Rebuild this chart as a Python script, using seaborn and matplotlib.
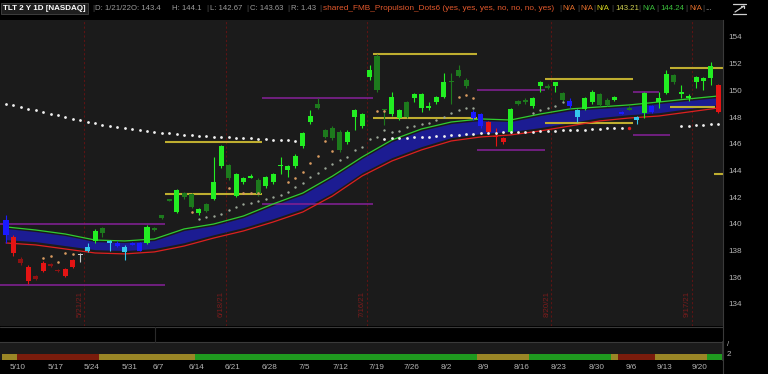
import numpy as np
import pandas as pd
import matplotlib
matplotlib.use("Agg")
import matplotlib.pyplot as plt
import seaborn as sns
from matplotlib.lines import Line2D

sns.set_theme(style="dark")
plt.rcParams['font.family'] = ['Liberation Sans', 'DejaVu Sans']

# ---------------- data ----------------
opens = [139.2, 139.0, 137.4, 136.8, 136.1, 137.1, 137.0, 136.55, 136.6, 137.3,
         137.7, 138.0, 138.7, 139.3, 138.6, 138.35, 137.9, 138.45, 138.0, 138.6,
         139.55, 140.45, 141.75, 140.9, 142.0, 142.2, 140.8, 141.5, 141.9, 144.3,
         144.4, 142.1, 143.15, 143.45, 143.3, 142.8, 143.1, 144.3, 144.0, 144.3,
         145.8, 147.6, 148.7, 147.0, 147.2, 146.9, 146.1, 148.0, 147.3, 151.0,
         152.6, 148.5, 148.2, 147.9, 149.1, 149.4, 148.7, 148.7, 149.1, 149.5,
         150.6, 151.5, 150.8, 148.4, 148.2, 147.6, 146.6, 146.4, 146.9, 149.2,
         149.3, 148.8, 150.3, 150.35, 150.3, 149.8, 149.2, 148.0, 148.6, 149.1,
         149.7, 149.3, 149.3, 148.4, 148.7, 147.8, 148.3, 148.8, 149.1, 149.8,
         151.15, 149.7, 149.45, 150.6, 150.7, 150.9, 150.4]
highs = [140.7, 139.2, 137.5, 136.9, 136.2, 137.2, 137.1, 136.6, 136.7, 137.4,
         137.8, 138.6, 139.6, 139.8, 138.8, 138.7, 138.4, 138.65, 138.65, 139.9,
         139.8, 140.7, 141.9, 142.6, 142.35, 142.3, 141.2, 141.6, 145.0, 145.9,
         144.5, 143.8, 143.5, 143.7, 143.4, 143.6, 143.8, 145.0, 144.4, 145.2,
         146.9, 148.5, 149.4, 147.1, 147.3, 147.0, 147.0, 148.6, 148.3, 151.9,
         152.7, 148.6, 149.9, 148.6, 149.2, 149.8, 149.8, 149.1, 149.6, 151.3,
         151.3, 151.9, 150.9, 148.5, 148.3, 147.7, 147.2, 146.5, 148.7, 149.3,
         149.4, 149.5, 150.7, 150.45, 150.65, 149.9, 149.4, 148.6, 149.5, 150.0,
         149.8, 149.4, 149.6, 148.45, 148.8, 148.1, 149.9, 148.9, 149.9, 151.5,
         151.2, 150.4, 149.7, 151.1, 151.0, 152.1, 150.5]
lows = [138.6, 137.6, 136.9, 135.5, 135.8, 136.4, 136.8, 136.4, 136.0, 136.7,
        137.15, 137.9, 138.6, 139.0, 138.0, 138.3, 137.3, 138.4, 137.95, 138.5,
        139.5, 140.4, 141.7, 140.8, 141.9, 141.2, 140.7, 140.9, 141.8, 144.2,
        143.3, 142.0, 143.0, 143.4, 142.1, 142.7, 143.0, 143.7, 143.5, 144.2,
        145.7, 147.5, 148.6, 146.4, 146.3, 145.4, 146.0, 147.0, 147.2, 150.8,
        149.9, 147.4, 148.1, 147.8, 147.9, 149.1, 148.4, 148.5, 149.0, 149.4,
        149.0, 151.0, 150.2, 147.8, 147.2, 146.8, 145.8, 146.0, 146.8, 148.9,
        149.0, 148.7, 149.9, 150.1, 149.9, 149.2, 148.7, 147.6, 148.5, 149.0,
        148.8, 148.8, 149.2, 148.2, 148.5, 147.5, 147.9, 148.3, 148.7, 149.7,
        150.5, 149.4, 149.2, 150.2, 150.0, 150.4, 148.3]
closes = [140.3, 137.8, 137.1, 135.7, 135.9, 136.5, 136.85, 136.5, 136.1, 136.8,
          137.75, 138.3, 139.5, 139.7, 138.7, 138.6, 138.3, 138.6, 138.6, 139.8,
          139.7, 140.65, 141.85, 142.5, 142.3, 141.3, 141.1, 141.0, 143.1, 145.8,
          143.4, 143.7, 143.4, 143.6, 142.2, 143.5, 143.7, 144.4, 144.3, 145.1,
          146.8, 148.1, 149.0, 146.5, 146.4, 145.5, 146.9, 148.5, 148.2, 151.5,
          150.0, 148.55, 149.5, 148.5, 148.0, 149.7, 149.7, 148.85, 149.5, 150.6,
          150.65, 151.1, 150.3, 147.9, 147.3, 146.9, 146.5, 146.1, 148.6, 149.0,
          149.15, 149.4, 150.6, 150.2, 150.6, 149.3, 148.8, 148.5, 149.4, 149.9,
          148.9, 148.9, 149.5, 148.25, 148.55, 148.0, 149.8, 148.4, 149.4, 151.2,
          150.6, 149.9, 149.55, 151.0, 150.9, 151.8, 148.4]
candle_paint = list("BRrRrRrrRR" "WCGgCBCBBG" "gggGggGgGG" "gGGGgGGGGG"
                    "GGggggGGGG" "g"
                    "gGGgGGGGGggg"
                    "BBRRRGggGGgGgBCGGggGBgCGBGGgGGGGGR")

# bands (every 4th bar)
band_idx = list(range(0, 97, 4))
upper_band = [139.77, 139.54, 139.24, 138.79, 138.72, 138.87, 139.62, 139.99, 140.59,
              141.49, 142.31, 143.58, 145.01, 146.28, 147.11, 147.63, 147.86, 147.78,
              148.23, 148.61, 148.76, 148.91, 149.13, 149.36, 149.58]
lower_band = [138.57, 138.42, 138.12, 137.82, 137.75, 137.90, 138.34, 138.94, 139.47,
              140.14, 140.89, 142.09, 143.59, 144.71, 145.54, 146.21, 146.51, 146.66,
              146.96, 147.33, 147.71, 147.93, 148.08, 148.38, 148.68]

# white dots (upper, descending), bars 0-39
white_a_idx = list(range(0, 40))
white_a = [148.98, 148.87, 148.76, 148.64, 148.53, 148.38, 148.23, 148.12, 148.01, 147.86,
           147.75, 147.63, 147.52, 147.41, 147.33, 147.26, 147.18, 147.11, 147.03, 146.96,
           146.88, 146.81, 146.77, 146.73, 146.66, 146.62, 146.58, 146.55, 146.51, 146.51,
           146.47, 146.43, 146.43, 146.40, 146.36, 146.32, 146.28, 146.28, 146.25, 146.21]
# white dots (lower, rising)
white_b_idx = list(range(51, 84)) + [91, 92, 93, 94, 95, 96]
white_b = [146.36, 146.43, 146.43, 146.43, 146.51, 146.51, 146.51, 146.58, 146.58, 146.66,
           146.66, 146.73, 146.73, 146.81, 146.81, 146.81, 146.88, 146.88, 146.88, 146.88,
           146.88, 146.96, 146.96, 146.96, 147.03, 147.03, 147.03, 147.03, 147.11, 147.11,
           147.18, 147.18, 147.18,
           147.33, 147.33, 147.41, 147.41, 147.48, 147.48]
red_dot_idx = [84]
red_dot = [147.18]
# gray trailing dots
gray_idx = list(range(26, 64)) + [71, 72, 73, 74, 75]
gray_dots = [140.37, 140.52, 140.59, 140.74, 141.04, 141.27, 141.49, 141.57, 141.72, 141.87,
             142.01, 142.16, 142.39, 142.76, 143.06, 143.51, 143.81, 144.19, 144.49, 144.79,
             145.01, 145.54, 145.76, 146.36, 146.51, 147.03, 146.88, 146.96, 147.26, 147.33,
             147.48, 147.56, 147.78, 148.01, 148.31, 148.53, 148.68, 148.68,
             148.31, 148.53, 148.68, 148.83, 149.13]
# orange dots
orange_idx = [5, 6, 7, 8, 9, 25, 30, 32, 33, 34, 38, 39, 40, 41, 42, 43, 44, 50, 51, 61, 62, 63]
orange_dots = [137.45, 137.6, 137.15, 137.8, 137.75, 140.89, 142.69, 142.31, 142.31, 142.31,
               143.14, 143.44, 143.89, 144.56, 145.09, 146.21, 145.46, 148.46, 148.46,
               149.5, 149.66, 149.43]

# horizontal range lines (start bar, end bar, level)
purple_levels = [(-0.9, 21.4, 140.0), (-0.9, 21.4, 135.42), (34.5, 49.5, 149.45), (34.5, 49.5, 141.49),
                 (63.5, 72.6, 150.05), (63.5, 72.6, 145.54), (84.5, 88.0, 149.9), (84.5, 89.5, 146.66)]
yellow_levels = [(21.4, 34.5, 146.1), (21.4, 34.5, 142.2), (49.5, 63.5, 152.75), (49.5, 63.5, 147.9),
                 (72.6, 84.5, 150.85), (72.6, 84.5, 147.58), (89.5, 96.7, 151.65), (89.5, 95.5, 148.76),
                 (95.4, 96.6, 143.74)]

expiry_pos = [10.5, 29.6, 48.6, 73.5, 92.4]
expiry_labels = ["5/21/21", "6/18/21", "7/16/21", "8/20/21", "9/17/21"]

week_labels = ["5/10", "5/17", "5/24", "5/31", "6/7", "6/14", "6/21", "6/28", "7/5", "7/12",
               "7/19", "7/26", "8/2", "8/9", "8/16", "8/23", "8/30", "9/6", "9/13", "9/20"]
week_pos = [1.62, 6.74, 11.59, 16.71, 20.49, 25.74, 30.59, 35.58, 40.16, 45.01,
            49.87, 54.58, 59.30, 64.29, 69.54, 74.53, 79.65, 84.23, 88.68, 93.53]

trend_state = list("oo" + "r" * 11 + "o" * 13 + "g" * 38 + "o" * 7 + "g" * 11 + "o" + "r" * 5 + "o" * 7 + "gg")

price_ticks = [134, 136, 138, 140, 142, 144, 146, 148, 150, 152, 154]

# ---------------- styles ----------------
paint = {'G': '#22ee22', 'g': '#1d7a1d', 'R': '#e41414', 'r': '#8e1212',
         'B': '#1a1aff', 'C': '#35c8ee', 'W': '#c8c8c8'}
state_col = {'g': '#1f9a1f', 'o': '#9a8626', 'r': '#7a1c0c'}

W, H = 768, 374
fig = plt.figure(figsize=(W / 100, H / 100), dpi=100, facecolor='black')


def px_rect(x0, y0, x1, y1):
    return [x0 / W, 1 - y1 / H, (x1 - x0) / W, (y1 - y0) / H]


ax = fig.add_axes(px_rect(0, 20, 723, 326))
ax.set_facecolor('#1b1b1b')
xlim = (-0.81, 96.63)
ax.set_xlim(*xlim)
ax.set_ylim(132.35, 155.27)
ax.grid(False)

# expiration verticals
for p, lab in zip(expiry_pos, expiry_labels):
    ax.axvline(p, color='#5c1414', lw=0.8, ls=(0, (2, 2)), zorder=1)
    ax.text(p - 0.55, 134.0, lab, rotation=90, color='#7a1c1c', fontsize=5.6,
            ha='center', va='center', zorder=1)

# band fill and lines
ax.fill_between(band_idx, np.array(upper_band) - 0.12, np.array(lower_band) + 0.25,
                color='#1c1c92', lw=0, zorder=2)
sns.lineplot(x=band_idx, y=upper_band, ax=ax, color='#30cc30', lw=0.9, zorder=3)
sns.lineplot(x=band_idx, y=lower_band, ax=ax, color='#dc2020', lw=0.9, zorder=3)

# range lines
for a, b, lv in purple_levels:
    ax.hlines(lv, a, b, color='#7e2090', lw=1.2, zorder=2)
for a, b, lv in yellow_levels:
    ax.hlines(lv, a, b, color='#bfae30', lw=1.5, zorder=2)

# candles
idx = np.arange(len(opens))
cols = [paint[c] for c in candle_paint]
ax.vlines(idx, lows, highs, colors=cols, lw=0.8, zorder=4)
bottoms = np.minimum(opens, closes)
heights = np.maximum(np.abs(np.array(closes) - np.array(opens)), 0.07)
ax.bar(idx, heights, bottom=bottoms, width=0.68, color=cols, lw=0, zorder=5)

# dots
sns.scatterplot(x=white_a_idx, y=white_a, ax=ax, color='#f0f0f0', s=4, linewidth=0, zorder=6)
sns.scatterplot(x=white_b_idx, y=white_b, ax=ax, color='#f0f0f0', s=4, linewidth=0, zorder=6)
sns.scatterplot(x=red_dot_idx, y=red_dot, ax=ax, color='#e02020', s=6, linewidth=0, zorder=6)
sns.scatterplot(x=gray_idx, y=gray_dots, ax=ax, color='#9aa596', s=3, linewidth=0, zorder=6)
sns.scatterplot(x=orange_idx, y=orange_dots, ax=ax, color='#d89a60', s=3.5, linewidth=0, zorder=6)

ax.set_xlabel('')
ax.set_ylabel('')
ax.set_xticks([])
ax.yaxis.tick_right()
ax.set_yticks(price_ticks)
ax.set_yticklabels([str(t) for t in price_ticks])
ax.tick_params(axis='y', length=0, pad=4, labelsize=5.9, labelcolor='#b4b4b4')
for s in ['top', 'left', 'bottom']:
    ax.spines[s].set_visible(False)
ax.spines['right'].set_color('#3a3a3a')
ax.spines['right'].set_linewidth(0.8)

# lower indicator panel
ax2 = fig.add_axes(px_rect(0, 342, 723, 360))
ax2.set_facecolor('#1b1b1b')
ax2.set_xlim(*xlim)
ax2.set_ylim(0, 1)
ax2.grid(False)
ax2.bar(idx, [0.36] * len(idx), bottom=0, width=1.02,
        color=[state_col[s] for s in trend_state], lw=0)
ax2.set_yticks([])
ax2.set_xticks(week_pos)
ax2.set_xticklabels(week_labels)
ax2.tick_params(axis='x', length=0, pad=3, labelsize=5.9, labelcolor='#b4b4b4')
for s in ['left', 'bottom']:
    ax2.spines[s].set_visible(False)
ax2.spines['top'].set_color('#3a3a3a')
ax2.spines['top'].set_linewidth(0.8)
ax2.spines['right'].set_color('#3a3a3a')


def fline(x0, y0, x1, y1, c='#3a3a3a', lw=0.8):
    fig.add_artist(Line2D([x0 / W, x1 / W], [1 - y0 / H, 1 - y1 / H], color=c, lw=lw))


fline(0, 327, 723, 327)
fline(155, 327, 155, 342, c='#2a2a2a')
fline(723, 326, 723, 374)
fig.text(727 / W, 1 - 344 / H, '/', color='#b4b4b4', fontsize=5.5, va='center')
fig.text(727 / W, 1 - 355 / H, '2', color='#b4b4b4', fontsize=5.9, va='center')

# header
hy = 1 - 8.5 / H
fig.text(3 / W, hy, 'TLT 2 Y 1D [NASDAQ]', color='white', fontsize=5.8, fontweight='bold',
         va='center', bbox=dict(boxstyle='square,pad=0.25', fc='#1e1e1e', ec='#444444', lw=0.6))
header = [(92, '|', '#555555'), (95, 'D: 1/21/22', '#9c9c9c'), (131, 'O: 143.4', '#9c9c9c'),
          (172, 'H: 144.1', '#9c9c9c'), (206.5, '|', '#555555'), (210, 'L: 142.67', '#9c9c9c'),
          (246, '|', '#555555'), (250, 'C: 143.63', '#9c9c9c'), (287, '|', '#555555'),
          (291, 'R: 1.43', '#9c9c9c'), (319, '|', '#555555'),
          (323, 'shared_FMB_Propulsion_Dots6 (yes, yes, yes, no, no, no, yes)', '#e2582c'),
          (559, '|', '#555555'), (562, 'N/A', '#e8702c'), (577, '|', '#555555'),
          (580, 'N/A', '#e8702c'), (593.5, '|', '#555555'), (596, 'N/A', '#d8d820'),
          (611, '|', '#555555'), (615, '143.21', '#d0d050'), (638, '|', '#555555'),
          (642, 'N/A', '#3cc03c'), (656, '|', '#555555'), (660, '144.24', '#3cc03c'),
          (685, '|', '#555555'), (689, 'N/A', '#e8702c'), (702, '|', '#555555'),
          (705, '...', '#b0b0b0')]
for x, t, c in header:
    fs = 5.95 if t.startswith('shared') else 5.6
    fig.text(x / W, hy, t, color=c, fontsize=fs, va='center')

# zoom icon
fline(733, 4, 746, 4, c='#d0d0d0', lw=0.9)
fline(733, 14, 746, 14, c='#d0d0d0', lw=0.9)
fline(735, 12, 744, 6, c='#d0d0d0', lw=0.9)
fline(741, 6, 744, 6, c='#d0d0d0', lw=0.9)
fline(744, 6, 744, 8, c='#d0d0d0', lw=0.9)

fig.savefig('out.png', dpi=100, facecolor='black')
